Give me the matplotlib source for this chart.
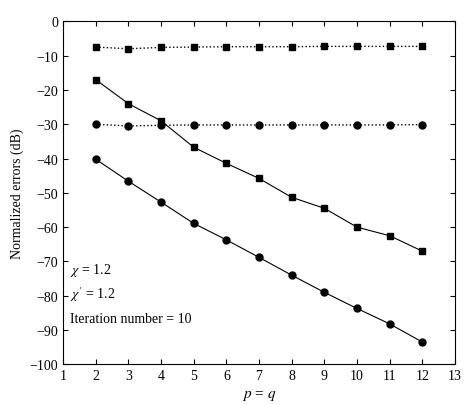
import matplotlib
matplotlib.use("Agg")
import matplotlib.pyplot as plt

plt.rcParams['font.family'] = ['Liberation Serif', 'DejaVu Serif']
plt.rcParams['mathtext.fontset'] = 'stix'

x = [2, 3, 4, 5, 6, 7, 8, 9, 10, 11, 12]
sq_dotted = [-7.5, -8, -7.6, -7.5, -7.4, -7.4, -7.4, -7.3, -7.3, -7.3, -7.3]
ci_dotted = [-30, -30.5, -30.3, -30.2, -30.2, -30.2, -30.2, -30.2, -30.2, -30.2, -30.1]
sq_solid = [-17, -24, -29, -36.7, -41.4, -45.8, -51.3, -54.5, -60, -62.5, -67]
ci_solid = [-40.2, -46.6, -52.7, -58.9, -63.7, -68.8, -74, -79, -83.7, -88.2, -93.5]

fig = plt.figure(figsize=(4.74, 4.06), dpi=100)
ax = fig.add_axes([0.133, 0.10, 0.827, 0.845])
ms = 5
ax.plot(x, sq_dotted, 'k:', marker='s', ms=ms, lw=1)
ax.plot(x, ci_dotted, 'k:', marker='o', ms=ms, lw=1)
ax.plot(x, sq_solid, 'k-', marker='s', ms=ms, lw=0.8)
ax.plot(x, ci_solid, 'k-', marker='o', ms=ms, lw=0.8)
ax.set_xlim(1, 13)
ax.set_ylim(-100, 0)
ax.set_xticks(range(1, 14))
ax.set_yticks(range(-100, 1, 10))
ax.tick_params(direction='in', top=True, right=True, labelsize=10)
ax.set_xlabel('$p$ = $q$', fontsize=11)
ax.set_ylabel('Normalized errors (dB)', fontsize=10)
ax.text(1.2, -73.5, '$\\chi$ = 1.2', fontsize=10)
ax.text(1.2, -80.5, "$\\chi^{\\prime}$ = 1.2", fontsize=10)
ax.text(1.2, -87.5, 'Iteration number = 10', fontsize=10)
fig.savefig('out.png', dpi=100)
